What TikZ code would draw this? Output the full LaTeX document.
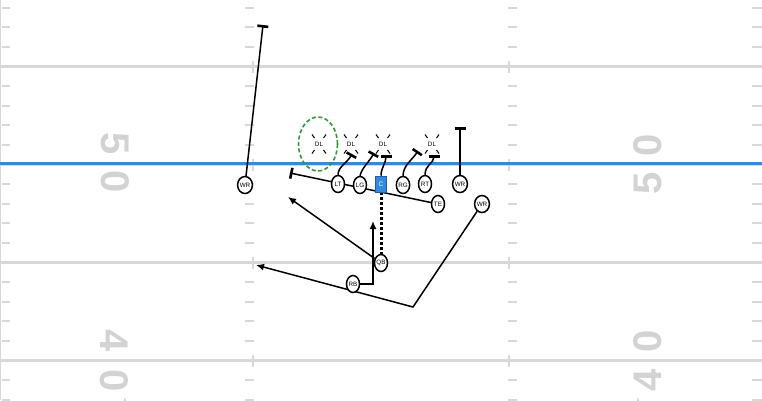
\documentclass[tikz,border=0pt]{standalone}
\usepackage{fontspec}
\setmainfont{Liberation Sans}
\usetikzlibrary{arrows.meta, shapes.geometric}

\definecolor{fieldgray}{HTML}{D8D8D8}
\definecolor{numgray}{HTML}{D3D3D3}
\definecolor{losblue}{HTML}{3388E0}
\definecolor{dlgreen}{HTML}{2E9A36}

\pgfdeclarelayer{field}
\pgfdeclarelayer{routes}
\pgfsetlayers{field,routes,main}

\begin{document}
\begin{tikzpicture}[x=1pt, y=-1pt,
    playernode/.style={ellipse, draw=black, fill=white, line width=1.5pt, minimum width=13pt, minimum height=17pt, inner sep=0pt, font=\fontsize{6.3}{7}\selectfont},
    centernode/.style={rectangle, draw=losblue!70!black, fill=losblue, line width=0.6pt, minimum width=11pt, minimum height=16pt, inner sep=0pt, text=white, font=\fontsize{6.5}{7}\selectfont},
    dlnode/.style={inner sep=0pt, font=\fontsize{6.3}{7}\selectfont},
    numnode/.style={text=numgray, inner sep=0pt, font=\fontsize{40}{40}\selectfont\bfseries},
    hashmark/.style={fieldgray, line width=2pt},
    route/.style={line width=1.5pt},
    block/.style={route, -{Bar[width=11pt, line width=2.6pt]}},
    run/.style={route, -{Latex[length=8pt, width=7pt]}}
    ]
    \useasboundingbox (0,0) rectangle (762,400);

    % field
    \begin{pgfonlayer}{field}
    \fill[white] (0,0) rectangle (762,400);
    \draw[fieldgray, line width=1pt] (0.5,0) -- (0.5,400);
    \foreach \y in {66.5,164.5,262.5,360.5}
      \draw[fieldgray, line width=3pt] (0,\y) -- (762,\y);
    \foreach \k in {-3,...,17} {
      \pgfmathtruncatemacro\m{mod(\k+20,5)}
      \ifnum\m=0 \else
        \foreach \xa/\xb in {2/10,245/254,508/517,752/762}
          \draw[hashmark] (\xa,66.5+19.6*\k) -- (\xb,66.5+19.6*\k);
      \fi
    }
    \foreach \y in {66.5,164.5,262.5,360.5}
      \foreach \x in {253,509}
        \draw[hashmark] (\x,\y-6) -- (\x,\y+6);

    \node[numnode, rotate=-90] (fivel)  at (115,144) {5};
    \node[numnode, rotate=-90] (zerol)  at (115,182) {0};
    \node[numnode, rotate=90]  (zeror)  at (648,145) {0};
    \node[numnode, rotate=90]  (fiver)  at (648,183) {5};
    \node[numnode, rotate=-90] (fourl)  at (114,341) {4};
    \node[numnode, rotate=-90] (zerobl) at (114,381) {0};
    \node[numnode, rotate=90]  (zerobr) at (648,341) {0};
    \node[numnode, rotate=90]  (fourr)  at (648,380) {4};
    \fill[numgray] (123,404) -- (125,397) -- (127,404) -- cycle;
    \fill[numgray] (636,404) -- (638,397) -- (640,404) -- cycle;

    \draw[losblue, line width=3pt] (0,163) -- (762,163);
    \end{pgfonlayer}

    % offense
    \node[playernode] (wrl) at (245,185) {WR};
    \node[playernode] (lt)  at (338,184) {LT};
    \node[playernode] (lg)  at (360,185) {LG};
    \node[centernode] (c)   at (381,184) {C};
    \node[playernode] (rg)  at (403,185) {RG};
    \node[playernode] (rt)  at (425,184) {RT};
    \node[playernode] (wrs) at (460,184) {WR};
    \node[playernode] (te)  at (438,204) {TE};
    \node[playernode] (wrr) at (482,204) {WR};
    \node[playernode] (qb)  at (381,263) {QB};
    \node[playernode] (rb)  at (353,284) {RB};

    % defense
    \node[dlnode] (dla) at (319,144) {DL};
    \node[dlnode] (dlb) at (351,144) {DL};
    \node[dlnode] (dlc) at (383,144) {DL};
    \node[dlnode] (dld) at (432,144) {DL};
    \foreach \d in {dla,dlb,dlc,dld}
      \foreach \sx/\sy in {-1/-1,1/-1,-1/1,1/1}
        \draw[line width=1pt] (\d) ++(4.5*\sx,6*\sy) -- ++(2.5*\sx,3.5*\sy);
    \draw[dlgreen, line width=1.6pt, dash pattern=on 4pt off 2.5pt] (318,144) ellipse (19.5 and 27);

    % route ends
    \coordinate (wrlend) at (263,25);
    \coordinate (wrsend) at (460,127);
    \coordinate (teend)  at (290,173);
    \coordinate (ltend)  at (352,154);
    \coordinate (lgend)  at (374,153);
    \coordinate (cend)   at (386,155);
    \coordinate (rgend)  at (418,151);
    \coordinate (rtend)  at (434,155);
    \coordinate (qbend)  at (288,197);
    \coordinate (rbturn) at (373,284);
    \coordinate (rbend)  at (373,221);
    \coordinate (wrrturn) at (413,307);
    \coordinate (wrrend) at (256,265);

    \begin{pgfonlayer}{routes}
    \draw[block] (wrl) -- (wrlend);
    \draw[block] (wrs) -- (wrsend);
    \draw[block] (te) -- (teend);
    \draw[block] (lt.north) .. controls +(0,-8) and +(-5,9) .. (ltend);
    \draw[block] (lg.north) .. controls +(2,-8) and +(-5,9) .. (lgend);
    \draw[block] (c.north) .. controls +(0,-8) and +(0,8) .. (cend);
    \draw[block] (rg.north) .. controls +(0,-10) and +(-6,9) .. (rgend);
    \draw[block] (rt.north) .. controls +(0,-10) and +(0,8) .. (rtend);
    \draw[line width=3pt, dash pattern=on 2.5pt off 2.5pt] (c) -- (qb);
    \draw[run] (qb) -- (qbend);
    \draw[run] (rb) -- (rbturn) -- (rbend);
    \draw[run] (wrr) -- (wrrturn) -- (wrrend);
    \end{pgfonlayer}
\end{tikzpicture}
\end{document}
